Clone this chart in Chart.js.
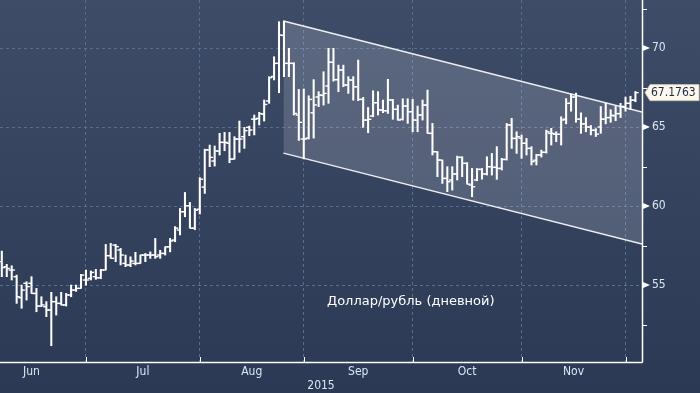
<!DOCTYPE html>
<html><head><meta charset="utf-8">
<script src="https://cdn.jsdelivr.net/npm/chart.js@4.4.0/dist/chart.umd.min.js"></script>
<style>html,body{margin:0;padding:0;background:#2c3a56;overflow:hidden}#c{display:block}</style>
</head><body><canvas id="c" width="700" height="393"></canvas>
<script>
// Daily USD/RUB bars, 8 Jun 2015 .. 3 Dec 2015 (trading days)
const opens=[56.48,56.16,55.95,55.53,54.20,55.11,55.11,54.47,53.67,53.63,53.42,53.95,53.84,53.74,54.37,54.68,54.79,55.32,55.42,55.53,55.46,55.95,56.86,57.53,57.22,56.37,
56.27,56.37,56.37,56.90,56.90,56.90,56.90,57.00,57.42,57.85,58.48,59.64,60.02,58.60,
59.80,61.20,63.55,62.85,63.48,64.03,63.97,62.97,64.24,64.39,64.98,65.50,65.55,65.82,66.65,68.20,69.03,70.80,69.03,69.03,65.76,
64.24,64.30,65.90,66.90,67.00,67.60,69.10,68.00,68.61,67.66,67.97,67.55,66.75,65.44,65.70,66.54,66.08,66.03,66.71,66.12,65.49,66.33,
65.97,65.44,65.76,66.39,64.60,63.44,62.91,61.75,61.65,62.03,63.08,62.70,61.33,61.65,62.32,62.03,62.49,62.45,62.38,62.95,65.13,64.28,
64.30,63.97,63.65,62.90,63.23,63.40,64.60,64.54,64.54,65.50,66.50,66.90,65.50,65.20,65.00,64.80,65.00,65.50,65.60,65.70,65.85,
66.30,66.50,66.70];
const highs=[57.15,56.31,56.22,55.63,55.00,55.21,55.53,54.79,54.26,53.95,54.54,54.26,54.54,54.47,55.00,55.00,55.68,55.95,55.89,55.99,55.99,57.57,57.64,57.57,57.32,56.90,
56.79,57.07,56.90,57.00,57.10,57.95,57.20,57.42,57.95,58.70,59.85,60.86,60.23,59.85,
61.80,63.60,63.86,63.80,64.60,64.66,64.66,64.39,65.38,64.98,65.06,65.76,65.93,66.71,68.19,69.45,71.67,71.71,69.98,69.07,67.38,
67.41,66.98,68.00,67.24,68.50,69.98,69.98,68.92,68.92,68.19,68.19,69.24,66.88,66.24,67.30,67.24,66.71,68.02,66.75,66.39,66.79,66.79,
66.75,66.33,66.71,67.34,65.23,63.44,62.91,62.49,62.49,63.16,63.12,62.75,62.38,62.38,62.38,63.12,63.33,63.76,63.02,65.23,65.55,64.70,
64.49,64.28,63.76,63.27,63.54,64.81,64.92,64.70,65.65,66.80,67.10,67.15,65.90,65.60,65.10,64.90,66.30,66.50,66.10,66.30,66.50,
66.90,66.95,67.25];
const lows=[55.53,55.53,55.32,53.84,53.53,54.05,54.47,53.31,53.63,53.00,51.16,53.10,53.74,53.67,54.26,54.60,54.79,55.00,55.32,55.36,55.40,55.95,56.69,56.48,56.27,56.16,
56.16,56.27,56.37,56.48,56.69,56.69,56.69,56.90,57.10,57.74,58.17,59.32,58.60,58.50,
59.50,60.80,62.49,62.53,63.23,63.50,62.74,62.97,63.40,63.65,64.45,64.50,65.13,65.38,66.50,67.98,67.17,68.19,68.19,65.76,64.15,
62.98,64.24,64.30,66.29,66.39,66.50,67.90,67.24,67.55,67.13,66.70,66.67,64.98,64.64,65.65,65.76,65.91,65.86,65.49,65.44,65.44,65.23,
64.70,64.70,65.44,64.60,63.23,61.86,61.43,60.91,61.01,61.65,61.86,61.39,60.59,61.60,61.70,61.96,61.96,61.69,62.28,62.91,63.65,63.33,
63.02,63.23,62.60,62.60,63.10,63.35,63.86,64.07,63.86,65.20,66.00,65.30,64.60,64.70,64.50,64.40,64.60,65.20,65.30,65.40,65.60,
66.00,66.10,66.60];
const closes=[56.10,56.05,55.95,54.26,54.68,54.90,54.47,53.67,53.74,53.42,53.95,53.84,53.74,54.37,54.68,54.79,55.63,55.32,55.80,55.46,55.95,56.86,56.69,57.43,56.90,56.27,
56.52,56.37,56.90,56.90,56.90,56.80,57.00,57.42,57.79,58.60,59.64,60.02,58.60,59.74,
61.70,63.55,63.08,63.48,64.03,64.03,62.97,64.24,64.24,64.77,64.81,65.50,65.85,66.43,68.12,69.03,70.82,69.03,69.03,65.86,65.30,
64.24,66.75,66.40,67.03,67.13,69.10,68.00,68.61,67.66,67.98,67.55,66.75,65.44,65.49,66.54,66.08,66.03,66.71,66.12,65.44,66.33,65.97,
65.44,65.76,66.39,64.60,63.44,62.91,61.75,61.54,62.03,63.08,62.70,61.39,61.22,62.32,62.03,62.49,62.45,62.38,62.95,65.13,64.28,64.39,
63.97,63.65,62.81,63.23,63.40,64.70,64.60,64.54,65.44,66.50,66.90,65.50,65.20,65.00,64.80,64.55,65.50,65.60,65.75,65.85,66.30,
66.50,66.70,67.1763];

// Month boundaries (bar index of first trading day); June starts before the window (virtual index -5)
const monthBounds=[-5,17,40,61,83,105,126];
const monthLabels=['Jun','Jul','Aug','Sep','Oct','Nov'];
const yearLabel='2015';
const yMajor=[55,60,65,70];
const yMinor=[52.5,57.5,62.5,67.5,72.5];
// Trend channel endpoints (bar index / price)
const channelX=[56.9,129.33];
const channelTop=[71.71,65.95];
const channelBottom=[63.35,57.59];
const caption='Доллар/рубль (дневной)';

const X_MIN=-0.364, X_MAX=129.33, Y_MIN=50.13, Y_MAX=73.04;
const OFF=0.33;
const FONT="'DejaVu Sans Condensed','Liberation Sans',sans-serif";
const LABEL_COLOR='#dce6f2';
const GRID_COLOR='#52708f';

const idx=opens.map((_,i)=>i);
const monthStarts=monthBounds.slice(1);
const monthCenters=monthLabels.map((_,k)=>(monthBounds[k]+monthBounds[k+1])/2);

const decor={
  id:'decor',
  beforeDraw(chart){
    const c=chart.ctx;
    const g=c.createLinearGradient(0,0,0,chart.height);
    g.addColorStop(0,'#3e4c68');
    g.addColorStop(1,'#2b3955');
    c.save();c.fillStyle=g;c.fillRect(0,0,chart.width,chart.height);c.restore();
  },
  afterDraw(chart){
    const c=chart.ctx, a=chart.chartArea, xs=chart.scales.x, ys=chart.scales.y;
    c.save();
    c.strokeStyle='#ffffff';c.lineWidth=1.5;
    c.beginPath();
    c.moveTo(a.left,a.bottom+0.5);c.lineTo(a.right+0.5,a.bottom+0.5);
    c.moveTo(a.right+0.5,a.top);c.lineTo(a.right+0.5,a.bottom+0.5);
    c.stroke();
    c.lineWidth=1;
    c.beginPath();
    monthStarts.forEach(v=>{const px=Math.round(xs.getPixelForValue(v))+0.5;c.moveTo(px,a.bottom);c.lineTo(px,a.bottom-5);});
    yMinor.forEach(v=>{const py=Math.round(ys.getPixelForValue(v))+0.5;c.moveTo(a.right,py);c.lineTo(a.right+5,py);});
    c.stroke();
    c.fillStyle='#ffffff';
    yMajor.forEach(v=>{const py=ys.getPixelForValue(v);c.beginPath();c.moveTo(a.right+1,py-3);c.lineTo(a.right+8,py);c.lineTo(a.right+1,py+3);c.closePath();c.fill();});
    // last price label
    const last=closes[closes.length-1];
    const py=ys.getPixelForValue(last);
    const L=a.right+3;
    c.beginPath();
    c.moveTo(L,py);c.lineTo(L+5,py-8);c.lineTo(699,py-8);c.lineTo(699,py+8);c.lineTo(L+5,py+8);c.closePath();
    c.fillStyle='#fdf8ee';c.fill();
    c.strokeStyle='#cfc6b6';c.lineWidth=1;c.stroke();
    c.fillStyle='#1c2b46';c.font='12px '+FONT;c.textBaseline='middle';c.textAlign='left';
    c.fillText(last.toFixed(4),L+6,py+0.5);
    // caption
    c.fillStyle='#ffffff';c.font="13px 'DejaVu Sans',sans-serif";
    c.fillText(caption,327,302);
    c.restore();
  }
};

new Chart(document.getElementById('c'),{
  type:'bar',
  data:{datasets:[
    {type:'line',label:'top',data:channelX.map((x,k)=>({x,y:channelTop[k]})),borderColor:'rgba(255,255,255,0.9)',borderWidth:1.5,pointRadius:0,fill:false,order:10,tension:0},
    {type:'line',label:'bottom',data:channelX.map((x,k)=>({x,y:channelBottom[k]})),borderColor:'rgba(255,255,255,0.9)',borderWidth:1.5,pointRadius:0,fill:'-1',backgroundColor:'rgba(255,255,255,0.16)',order:9,tension:0},
    {type:'bar',label:'range',data:idx.map(i=>({x:i,y:[lows[i],highs[i]]})),backgroundColor:'#ffffff',barThickness:1.4,borderWidth:0,order:2},
    {type:'scatter',label:'open',data:idx.map(i=>({x:i-OFF,y:opens[i]})),pointStyle:'line',radius:1.6,borderColor:'#ffffff',borderWidth:1.4,order:1},
    {type:'scatter',label:'close',data:idx.map(i=>({x:i+OFF,y:closes[i]})),pointStyle:'line',radius:1.6,borderColor:'#ffffff',borderWidth:1.4,order:1}
  ]},
  options:{
    responsive:false,animation:false,devicePixelRatio:1,events:[],
    layout:{padding:0,autoPadding:false},
    plugins:{legend:{display:false},tooltip:{enabled:false}},
    scales:{
      x:{type:'linear',min:X_MIN,max:X_MAX,offset:false,
        afterBuildTicks:s=>{s.ticks=[...monthStarts,...monthCenters].sort((a,b)=>a-b).map(v=>({value:v}));},
        afterFit:s=>{s.height=31;s.paddingLeft=0;s.paddingRight=0;},
        ticks:{autoSkip:false,maxRotation:0,minRotation:0,padding:3,color:LABEL_COLOR,font:{family:FONT,size:12},
          callback:v=>{const k=monthCenters.indexOf(v);return k>=0?monthLabels[k]:'';}},
        grid:{offset:false,drawTicks:false,lineWidth:1,color:ctx=>(ctx.tick&&monthStarts.includes(ctx.tick.value))?GRID_COLOR:'transparent'},
        border:{display:false,dash:[3,3]},
        title:{display:true,text:yearLabel,color:LABEL_COLOR,font:{family:FONT,size:12},padding:{top:0,bottom:0}}
      },
      y:{type:'linear',position:'right',min:Y_MIN,max:Y_MAX,
        afterBuildTicks:s=>{s.ticks=[...yMinor,...yMajor].sort((a,b)=>a-b).map(v=>({value:v}));},
        afterFit:s=>{s.width=58;s.paddingTop=0;s.paddingBottom=0;},
        ticks:{padding:10,color:LABEL_COLOR,font:{family:FONT,size:12},callback:v=>yMajor.includes(v)?String(v):''},
        grid:{drawTicks:false,lineWidth:1,color:ctx=>(ctx.tick&&yMajor.includes(ctx.tick.value))?GRID_COLOR:'transparent'},
        border:{display:false,dash:[3,3]}
      }
    }
  },
  plugins:[decor]
});
</script></body></html>
